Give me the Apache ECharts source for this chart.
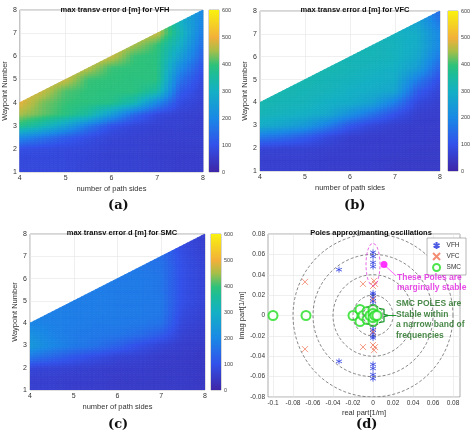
<!DOCTYPE html>
<html><head><meta charset="utf-8">
<script src="https://cdn.jsdelivr.net/npm/echarts@6/dist/echarts.min.js"></script>
<style>html,body{margin:0;padding:0;background:#fff}#c{width:474px;height:438px}</style>
</head><body><div id="c"></div>
<script>
// grid nodes x = 4..8 step 0.5 ; y = 1..8 step 0.5
const xs = [4,4.5,5,5.5,6,6.5,7,7.5,8];
const ys = [1,1.5,2,2.5,3,3.5,4,4.5,5,5.5,6,6.5,7,7.5,8];
const N = null;
const vfh = [
[80,80,80,70,65,65,60,55,55],
[80,80,80,70,65,65,60,55,55],
[90,85,80,75,65,65,60,55,55],
[200,160,120,90,70,65,60,60,60],
[380,330,260,170,100,75,65,65,60],
[450,420,390,350,250,140,80,65,60],
[490,430,400,390,380,330,200,90,65],
[500,470,410,395,390,390,350,120,70],
[N,490,470,400,395,390,390,160,80],
[N,N,490,460,400,395,390,210,100],
[N,N,500,490,470,400,390,260,130],
[N,N,N,490,490,450,400,300,150],
[N,N,N,N,500,480,470,330,170],
[N,N,N,N,N,490,480,310,190],
[N,N,N,N,N,N,480,300,200]];
const vfc = [
[60,60,60,55,55,55,50,50,50],
[60,60,60,55,55,55,50,50,50],
[70,65,65,60,55,55,55,50,50],
[170,150,120,80,60,55,55,55,50],
[290,270,240,180,110,75,60,55,55],
[320,310,300,280,220,160,100,60,55],
[330,320,315,300,290,260,180,80,60],
[330,330,320,315,300,290,270,120,70],
[N,330,330,320,310,300,290,180,90],
[N,N,330,330,320,310,300,250,130],
[N,N,330,330,320,320,310,280,170],
[N,N,N,330,330,320,310,290,200],
[N,N,N,N,330,320,310,290,200],
[N,N,N,N,N,320,300,270,170],
[N,N,N,N,N,N,290,250,140]];
const smc = [
[60,60,55,55,50,50,50,50,45],
[60,60,55,55,50,50,50,50,45],
[75,70,65,60,55,55,50,50,45],
[170,140,110,90,70,65,55,50,45],
[240,200,175,160,130,95,70,55,50],
[220,190,175,170,165,150,120,65,55],
[195,185,180,175,175,170,160,75,60],
[190,185,180,180,175,175,170,85,65],
[N,185,180,180,175,175,170,95,70],
[N,N,180,180,175,175,165,95,70],
[N,N,180,180,175,175,165,95,70],
[N,N,N,175,175,170,160,95,70],
[N,N,N,N,170,165,155,90,65],
[N,N,N,N,N,160,145,85,60],
[N,N,N,N,N,N,130,80,60]];
const titles = ['max transv error d [m] for VFH','max transv error d [m] for VFC','max transv error d [m] for SMC'];
// poles
const vfhPoles = [[0,0.062],[0,0.058],[0,0.052],[0,0.048],[0,-0.062],[0,-0.058],[0,-0.052],[0,-0.048],
 [0,0.022],[0,0.02],[0,0.017],[0,0.014],[0,0.01],[0,0.006],[0,0.003],[0,0],
 [0,-0.022],[0,-0.02],[0,-0.017],[0,-0.014],[0,-0.01],[0,-0.006],[0,-0.003],
 [-0.034,0.045],[-0.034,-0.045]];
const vfcPoles = [[-0.068,0.033],[-0.068,-0.033],[-0.01,0.031],[-0.01,-0.031],[0.001,0.034],[0.002,0.031],[0,0.029],
 [0.001,-0.034],[0.002,-0.031],[0,-0.029],[0,0.016],[0,-0.016],[0,0.008],[0,-0.008],[0,0.003],[0,-0.003],[0,0]];
const smcPoles = [[-0.1,0],[-0.067,0],[-0.02,0],[-0.013,0.006],[-0.013,-0.006],[-0.01,0],[-0.006,0.004],[-0.006,-0.004],
 [-0.003,0],[0,0.006],[0,-0.006],[0,0.002],[0,-0.002],[0.002,0],[0.004,0]];
const margPole = [[0.011,0.05]];
const radii = [0.01,0.02,0.04,0.06,0.08];
const poleTicks = [-0.1,-0.08,-0.06,-0.04,-0.02,0,0.02,0.04,0.06,0.08];

const stops = [[0,'#3e26a8'],[0.17,'#3252ea'],[0.33,'#1a88e6'],[0.5,'#14b0c4'],[0.6,'#1cbc9a'],[0.66,'#2ec27a'],[0.75,'#a8be48'],[0.83,'#f2b03a'],[1,'#f9f20e']];
const hex=h=>[1,3,5].map(i=>parseInt(h.substr(i,2),16));
function cmap(v){let t=Math.max(0,Math.min(1,v/600));
  for(let i=1;i<stops.length;i++){if(t<=stops[i][0]){const a=stops[i-1],b=stops[i];const u=(t-a[0])/(b[0]-a[0]);
    const ca=hex(a[1]),cb=hex(b[1]);return 'rgb('+ca.map((c,k)=>Math.round(c+u*(cb[k]-c))).join(',')+')';}}
  return stops[stops.length-1][1];}
const font = 'Arial, Liberation Sans, sans-serif';
const grids = [
 {left:17,top:10,width:186,height:162},{left:209,top:10,width:10,height:162},
 {left:260,top:11,width:180,height:160},{left:448,top:11,width:10,height:160},
 {left:30,top:234,width:175,height:156},{left:211,top:234,width:10,height:156},
 {left:268,top:234,width:192,height:163}];
grids.forEach(g=>{g.show=true;g.borderColor='#777';g.borderWidth=0.6;g.backgroundColor='#fff';});
const lab = {fontSize:7,color:'#333',fontFamily:font,margin:3};
const sl = {show:true,lineStyle:{color:'#e4e4e4',width:0.6}};
const xAxis=[], yAxis=[], series=[];
function clipPoly(poly){const out=[];
  for(let i=0;i<poly.length;i++){const a=poly[i],b=poly[(i+1)%poly.length];
    const fa=a[0]-a[1], fb=b[0]-b[1];
    if(fa>=0) out.push(a);
    if((fa>=0)!==(fb>=0)){const t=fa/(fa-fb); out.push([a[0]+t*(b[0]-a[0]),a[1]+t*(b[1]-a[1])]);}
  } return out;}
[vfh,vfc,smc].forEach((M,k)=>{
  const gi=2*k, ci=2*k+1;
  const F=M.map(r=>r.slice());
  for(let c=0;c<xs.length;c++){let last=null;for(let r=0;r<ys.length;r++){if(F[r][c]==null)F[r][c]=last;else last=F[r][c];}}
  xAxis.push({gridIndex:gi,type:'value',min:4,max:8,interval:1,axisLabel:lab,axisTick:{show:false},axisLine:{show:false},splitLine:sl,
    name:'number of path sides',nameLocation:'middle',nameGap:13,nameTextStyle:{fontSize:7.5,color:'#333',fontFamily:font}});
  yAxis.push({gridIndex:gi,type:'value',min:1,max:8,interval:1,axisLabel:lab,axisTick:{show:false},axisLine:{show:false},splitLine:sl,
    name:'Waypoint Number',nameLocation:'middle',nameGap:10,nameTextStyle:{fontSize:7.5,color:'#333',fontFamily:font}});
  xAxis.push({gridIndex:ci,type:'value',min:0,max:1,show:false});
  yAxis.push({gridIndex:ci,type:'value',min:0,max:600,interval:100,position:'right',axisLabel:{fontSize:5.5,color:'#444',margin:3,fontFamily:font},axisTick:{show:false},axisLine:{show:false},splitLine:{show:false}});
  const cells=[];
  for(let r=0;r<ys.length-1;r++)for(let c=0;c<xs.length-1;c++) if(ys[r]<=xs[c+1]) cells.push([xs[c],ys[r],c,r]);
  series.push({type:'custom',xAxisIndex:gi,yAxisIndex:gi,clip:true,data:cells,
    renderItem:(p,api)=>{
      const cell=cells[p.dataIndex]; const c=cell[2],r=cell[3];
      const x0=xs[c],x1=xs[c+1],y0=ys[r],y1=ys[r+1];
      const v00=F[r][c],v10=F[r][c+1],v01=F[r+1][c]??F[r][c],v11=F[r+1][c+1]??F[r][c+1];
      const S=6,ch=[];
      for(let i=0;i<S;i++)for(let j=0;j<S;j++){
        const u=(i+0.5)/S,w=(j+0.5)/S;
        const v=v00*(1-u)*(1-w)+v10*u*(1-w)+v01*(1-u)*w+v11*u*w;
        const ax=x0+(x1-x0)*i/S,bx=x0+(x1-x0)*(i+1)/S,ay=y0+(y1-y0)*j/S,by=y0+(y1-y0)*(j+1)/S;
        const poly=clipPoly([[ax,ay],[bx,ay],[bx,by],[ax,by]]);
        if(poly.length<3) continue;
        const col=cmap(v);
        ch.push({type:'polygon',shape:{points:poly.map(q=>api.coord(q))},style:{fill:col,stroke:col,lineWidth:0.8}});
      }
      return {type:'group',children:ch};
    }});
  series.push({type:'custom',xAxisIndex:ci,yAxisIndex:ci,data:[[0]],renderItem:(p,api)=>{
    const a=api.coord([0,600]),b=api.coord([1,0]);
    return {type:'rect',shape:{x:a[0],y:a[1],width:b[0]-a[0],height:b[1]-a[1]},
      style:{fill:{type:'linear',x:0,y:1,x2:0,y2:0,colorStops:stops.map(s=>({offset:s[0],color:s[1]}))}}};
  }});
});
const pl = {fontSize:6.5,color:'#333',fontFamily:font,margin:3,formatter:v=>String(Number(v.toFixed(2)))};
xAxis.push({gridIndex:6,type:'value',min:-0.105,max:0.087,axisLine:{show:false},
  axisTick:{show:false,customValues:poleTicks},axisLabel:Object.assign({customValues:poleTicks},pl),
  splitLine:Object.assign({customValues:poleTicks},sl),
  name:'real part[1/m]',nameLocation:'middle',nameGap:12,nameTextStyle:{fontSize:7.5,color:'#333',fontFamily:font}});
yAxis.push({gridIndex:6,type:'value',min:-0.08,max:0.08,interval:0.02,axisLine:{show:false},axisTick:{show:false},axisLabel:pl,splitLine:sl,
  name:'imag part[1/m]',nameLocation:'middle',nameGap:22,nameTextStyle:{fontSize:7.5,color:'#333',fontFamily:font}});
const P={xAxisIndex:6,yAxisIndex:6};
radii.forEach(r=>{const pts=[];for(let i=0;i<=120;i++){const t=i/120*2*Math.PI;pts.push([r*Math.cos(t),r*Math.sin(t)]);}
  series.push(Object.assign({type:'line',data:pts,symbol:'none',silent:true,lineStyle:{color:'#555',width:0.7,type:[3,2]}},P));});
const ell=[];for(let i=0;i<=80;i++){const t=i/80*2*Math.PI;ell.push([0.007*Math.cos(t),0.05+0.021*Math.sin(t)]);}
series.push(Object.assign({type:'line',data:ell,symbol:'none',silent:true,lineStyle:{color:'#e040e0',width:0.8,type:[3,2]}},P));
const ast='path://M0,-5L0,5M-4.3,-2.5L4.3,2.5M-4.3,2.5L4.3,-2.5';
series.push(Object.assign({type:'scatter',name:'VFH',data:vfhPoles,symbol:ast,symbolSize:6,itemStyle:{color:'rgba(120,150,255,0.35)',borderColor:'#2233dd',borderWidth:0.9}},P));
series.push(Object.assign({type:'scatter',name:'VFC',data:vfcPoles,symbol:'path://M-4,-4L4,4M-4,4L4,-4',symbolSize:6,itemStyle:{color:'rgba(0,0,0,0)',borderColor:'#f07050',borderWidth:0.9}},P));
series.push(Object.assign({type:'scatter',name:'SMC',data:smcPoles,symbol:'emptyCircle',symbolSize:9,itemStyle:{color:'#22dd22',borderColor:'#22dd22',borderWidth:0.9}},P));
series.push(Object.assign({type:'scatter',data:margPole,symbol:'circle',symbolSize:7,itemStyle:{color:'#ff00ff'},z:5},P));
series.push(Object.assign({type:'line',data:[[0.012,0.049],[0.023,0.039]],symbol:'none',lineStyle:{color:'#ff40ff',width:0.8}},P));
series.push(Object.assign({type:'line',data:[[0.006,0.007],[0.011,0.006],[0.011,0.001],[0.015,0],[0.011,-0.001],[0.011,-0.006],[0.006,-0.007]],symbol:'none',lineStyle:{color:'#1a9a2a',width:1.3}},P));
series.push(Object.assign({type:'line',data:[[0.015,0],[0.023,0]],symbol:'none',lineStyle:{color:'#1a9a2a',width:1}},P));
const txt=(pt,t,col)=>Object.assign({type:'scatter',data:[pt],symbolSize:0,silent:true,z:6,label:{show:true,position:'right',distance:0,formatter:t,color:col,fontWeight:'bold',fontSize:8.5,lineHeight:10.5,fontFamily:font,align:'left'}},P);
series.push(txt([0.024,0.032],'These Poles are\nmarginally stable','#e020e0'));
series.push(txt([0.023,-0.004],'SMC POLES are\nStable within\na narrow band of\nfrequencies','#1a6a1a'));

const title=[{text:titles[0],left:110,top:1},{text:titles[1],left:350,top:1},{text:titles[2],left:117,top:224},{text:'Poles approximanting oscillations',left:366,top:224}]
 .map(t=>({text:t.text,left:t.left,top:t.top,textAlign:'center',textStyle:{fontSize:7.5,fontWeight:'bold',color:'#111',fontFamily:font}}));
const subl=[['(a)',118,199],['(b)',354,199],['(c)',118,418],['(d)',366,418]];
const chart=echarts.init(document.getElementById('c'),null,{renderer:'canvas'});
chart.setOption({animation:false,title,grid:grids,xAxis,yAxis,series,
 legend:{data:['VFH','VFC','SMC'],orient:'vertical',right:8,top:238,itemWidth:10,itemHeight:7,itemGap:2,
   backgroundColor:'#fff',borderColor:'#888',borderWidth:0.6,padding:[3,5],textStyle:{fontSize:6.5,color:'#333',fontFamily:font}},
 graphic:subl.map(s=>({type:'text',left:s[1]-10,top:s[2],style:{text:s[0],font:'bold 13px "DejaVu Serif", "Liberation Serif", serif',fill:'#111'}}))});
</script></body></html>
